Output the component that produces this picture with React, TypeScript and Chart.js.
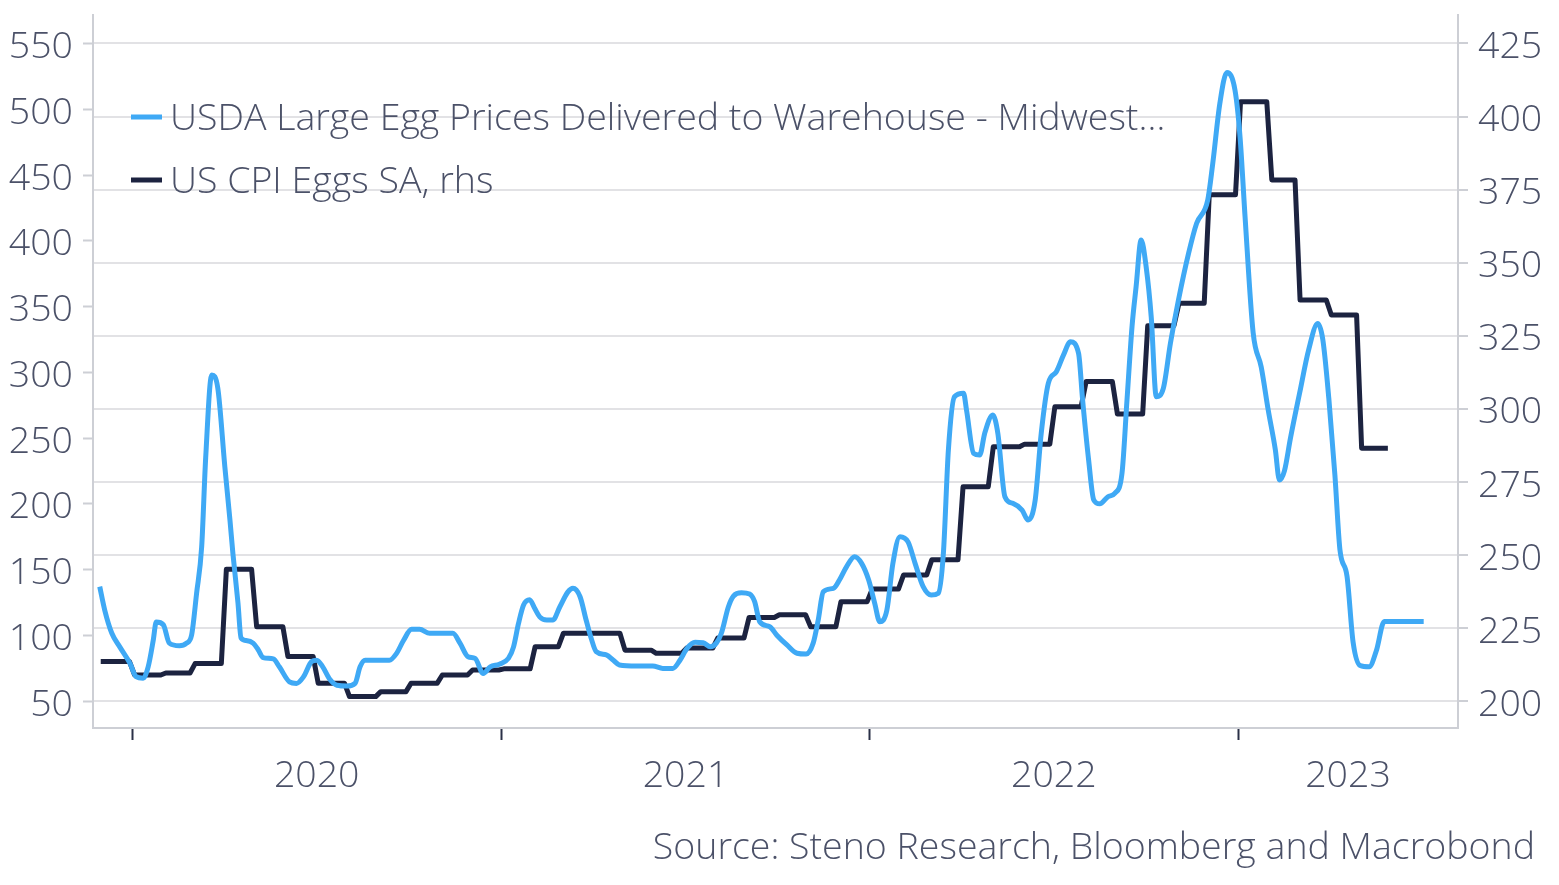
import { useEffect, useRef } from 'react';
import { Chart, registerables } from 'chart.js';

Chart.register(...registerables);

// ---- text ----
const usdaLabel = 'USDA Large Egg Prices Delivered to Warehouse - Midwest…';
const cpiLabel = 'US CPI Eggs SA, rhs';
const sourceNote = 'Source: Steno Research, Bloomberg and Macrobond';
const yearLabels = ['2020', '2021', '2022', '2023'];

// ---- axis ticks ----
const leftTicks = [50, 100, 150, 200, 250, 300, 350, 400, 450, 500, 550];
const rightTicks = [200, 225, 250, 275, 300, 325, 350, 375, 400, 425];

// ---- USDA large egg price, Midwest (lhs) ----
const usdaDates = [
  '2019-11-30', '2019-12-05', '2019-12-12', '2019-12-20', '2019-12-30',
  '2020-01-05', '2020-01-12', '2020-01-17', '2020-01-22', '2020-01-25',
  '2020-02-01', '2020-02-07', '2020-02-17', '2020-02-24', '2020-02-29',
  '2020-03-05', '2020-03-10', '2020-03-14', '2020-03-20', '2020-03-26',
  '2020-04-02', '2020-04-07', '2020-04-10', '2020-04-15', '2020-04-18',
  '2020-04-23', '2020-04-30', '2020-05-05', '2020-05-10', '2020-05-20',
  '2020-05-26', '2020-06-05', '2020-06-12', '2020-06-19', '2020-06-27',
  '2020-07-02', '2020-07-08', '2020-07-15', '2020-07-22', '2020-08-01',
  '2020-08-09', '2020-08-14', '2020-08-19', '2020-08-30', '2020-09-12',
  '2020-09-19', '2020-09-26', '2020-10-04', '2020-10-12', '2020-10-22',
  '2020-11-14', '2020-11-21', '2020-11-29', '2020-12-06', '2020-12-14',
  '2020-12-21', '2020-12-30',
  '2021-01-08', '2021-01-13', '2021-01-18', '2021-01-23', '2021-01-29',
  '2021-02-03', '2021-02-08', '2021-02-15', '2021-02-21', '2021-02-28',
  '2021-03-08', '2021-03-13', '2021-03-20', '2021-03-26', '2021-03-31',
  '2021-04-05', '2021-04-15', '2021-04-22', '2021-04-28', '2021-05-15',
  '2021-05-31', '2021-06-10', '2021-06-20', '2021-06-27', '2021-07-04',
  '2021-07-12', '2021-07-20', '2021-07-27', '2021-08-02', '2021-08-07',
  '2021-08-14', '2021-08-19', '2021-08-27', '2021-09-04', '2021-09-09',
  '2021-09-14', '2021-09-24', '2021-10-01', '2021-10-11', '2021-10-21',
  '2021-10-30', '2021-11-06', '2021-11-11', '2021-11-16', '2021-11-26',
  '2021-12-02', '2021-12-09', '2021-12-17', '2021-12-24', '2021-12-31',
  '2022-01-06', '2022-01-11', '2022-01-18', '2022-01-24', '2022-01-31',
  '2022-02-08', '2022-02-15', '2022-02-23', '2022-03-03', '2022-03-10',
  '2022-03-15', '2022-03-20', '2022-03-26', '2022-04-04', '2022-04-07',
  '2022-04-14', '2022-04-20', '2022-04-25', '2022-05-03', '2022-05-08',
  '2022-05-15', '2022-05-23', '2022-06-01', '2022-06-07', '2022-06-14',
  '2022-06-20', '2022-06-27', '2022-07-05', '2022-07-12', '2022-07-19',
  '2022-07-27', '2022-07-31', '2022-08-06', '2022-08-11', '2022-08-17',
  '2022-08-25', '2022-09-01', '2022-09-08', '2022-09-13', '2022-09-18',
  '2022-09-22', '2022-09-27', '2022-10-02', '2022-10-07', '2022-10-12',
  '2022-10-19', '2022-10-26', '2022-11-03', '2022-11-13', '2022-11-21',
  '2022-12-02', '2022-12-07', '2022-12-14', '2022-12-21', '2022-12-29',
  '2023-01-03', '2023-01-08', '2023-01-16', '2023-01-24', '2023-01-31',
  '2023-02-07', '2023-02-11', '2023-02-16', '2023-02-22', '2023-03-03',
  '2023-03-12', '2023-03-21', '2023-03-26', '2023-04-01', '2023-04-07',
  '2023-04-12', '2023-04-19', '2023-04-25', '2023-05-02', '2023-05-11',
  '2023-05-18', '2023-05-26', '2023-07-04',
];
const usdaValues = [
  137, 119, 101.5, 91, 78.6,
  68.5, 67.3, 76, 96, 110,
  108, 94, 92, 94, 100,
  132, 167, 235, 298, 288,
  228, 188, 162, 124.5, 98,
  96, 94, 89, 83, 82,
  76, 64.6, 63.4, 68.5, 80,
  81, 76, 66.5, 62, 61.4,
  63.4, 76, 81, 81, 81,
  86, 96, 104.5, 104.5, 101.5,
  101.5, 94, 83.7, 82.4, 71,
  76, 78,
  82.4, 91, 109, 123, 127,
  120.5, 114, 111.6, 111.6, 121.7,
  133, 135.7, 129.3, 111.6, 97.7,
  87.5, 85, 81, 77.4, 76.6,
  76.6, 74.8, 74.8, 81, 90,
  94.6, 94.3, 91.3, 94, 101.5,
  121.7, 129.8, 132.3, 131.3, 125.5,
  110.3, 106.5, 100, 92.6, 86.3,
  85.7, 94, 111.6, 133, 135.7,
  142, 152, 159.7, 154.7, 142,
  124.3, 110.3, 119, 154.7, 175,
  171, 154.7, 137, 130.6, 132,
  162, 241, 281.4, 284, 271,
  238.3, 237, 253.6, 267.5, 253.6,
  205.3, 200.3, 195.2, 187.6, 202.8,
  253.6, 291.6, 300.4, 313, 323.2,
  314.4, 279, 233, 203, 200,
  205.3, 208, 223, 279, 335,
  365, 400.6, 380, 342, 281.4,
  287.8, 322, 355, 390.4, 413.3,
  431, 459, 504.5, 528, 514.6,
  479, 418, 330, 304, 271,
  241, 218, 225, 250, 284,
  317, 337, 325, 280, 222,
  165, 145, 95, 77, 76,
  88, 110.5, 110.5,
];

// ---- US CPI eggs, seasonally adjusted, monthly (rhs) ----
const cpiMonths = [
  '2019-12',
  '2020-01', '2020-02', '2020-03', '2020-04', '2020-05', '2020-06',
  '2020-07', '2020-08', '2020-09', '2020-10', '2020-11', '2020-12',
  '2021-01', '2021-02', '2021-03', '2021-04', '2021-05', '2021-06',
  '2021-07', '2021-08', '2021-09', '2021-10', '2021-11', '2021-12',
  '2022-01', '2022-02', '2022-03', '2022-04', '2022-05', '2022-06',
  '2022-07', '2022-08', '2022-09', '2022-10', '2022-11', '2022-12',
  '2023-01', '2023-02', '2023-03', '2023-04', '2023-05',
];
const cpiValues = [
  213.5,
  208.9, 209.6, 212.8, 245.1, 225.4, 215.2,
  206.1, 201.5, 203.2, 206.1, 208.9, 210.6,
  211.0, 218.6, 223.2, 223.2, 217.4, 216.3,
  218.1, 221.6, 228.6, 229.5, 225.4, 234.0,
  238.3, 243.1, 248.3, 273.3, 287.0, 287.9,
  300.7, 309.3, 298.2, 328.4, 336.1, 373.2,
  405.1, 378.3, 337.2, 332.1, 286.5,
];

// ---- styling ----
const FONT = '"Open Sans", "Noto Sans", sans-serif';
const FONT_SIZE = 37.5;
const TEXT = '#4b5168';
const BLUE = '#3fa9f5';
const NAVY = '#1c2340';
const AXIS_LINE = '#cdcfd5';
const GRID = '#e2e2e5';

const DAY = 86400000;
const toMs = (iso: string) => Date.parse(iso + 'T00:00:00Z');

const X_MIN = Date.UTC(2019, 10, 23, 8);
const X_MAX = Date.UTC(2023, 7, 7);
const yearStarts = yearLabels.map((y) => Date.UTC(Number(y), 0, 1));
const yearMids = yearStarts.map((s, i) => {
  const end = i + 1 < yearStarts.length ? yearStarts[i + 1] : Date.UTC(Number(yearLabels[i]) + 1, 0, 1);
  return (s + Math.min(end, X_MAX)) / 2;
});
const yearStartSet = new Set(yearStarts);
const midLabel = new Map<number, string>(yearMids.map((m, i) => [m, yearLabels[i]]));

// monthly CPI held flat over each month with a short ramp between months
function cpiPoints() {
  const pts: { x: number; y: number }[] = [];
  cpiMonths.forEach((m, i) => {
    const [yy, mm] = m.split('-').map(Number);
    const start = Date.UTC(yy, mm - 1, 1);
    const end = Date.UTC(yy, mm, 1);
    pts.push({ x: i === 0 ? start : start + 2.5 * DAY, y: cpiValues[i] });
    pts.push({ x: end - 2.5 * DAY, y: cpiValues[i] });
  });
  return pts;
}

const insideLegend = {
  id: 'insideLegend',
  afterDraw(chart: any, _args: any, opts: any) {
    const { ctx } = chart;
    ctx.save();
    ctx.font = `${opts.weight} ${opts.size}px ${FONT}`;
    ctx.textBaseline = 'middle';
    ctx.textAlign = 'left';
    chart.data.datasets.forEach((ds: any, i: number) => {
      const y = opts.top + i * opts.rowGap;
      ctx.strokeStyle = ds.borderColor;
      ctx.lineWidth = 5;
      ctx.lineCap = 'butt';
      ctx.beginPath();
      ctx.moveTo(opts.left, y);
      ctx.lineTo(opts.left + opts.swatch, y);
      ctx.stroke();
      ctx.fillStyle = TEXT;
      ctx.fillText(ds.label, opts.left + opts.swatch + opts.gap, y + 2);
    });
    ctx.restore();
  },
};

const sourceLine = {
  id: 'sourceLine',
  afterDraw(chart: any, _args: any, opts: any) {
    const { ctx } = chart;
    ctx.save();
    ctx.font = `${opts.weight} ${opts.size}px ${FONT}`;
    ctx.fillStyle = TEXT;
    ctx.textAlign = 'right';
    ctx.textBaseline = 'middle';
    ctx.fillText(opts.text, opts.x, opts.y);
    ctx.restore();
  },
};

export default function App() {
  const canvasRef = useRef<HTMLCanvasElement | null>(null);

  useEffect(() => {
    document.body.style.margin = '0';
    document.documentElement.style.overflow = 'hidden';
    const canvas = canvasRef.current;
    if (!canvas) return;

    const tickFont = { family: FONT, size: FONT_SIZE, weight: 300 as any };

    const chart = new Chart(canvas, {
      type: 'line',
      data: {
        datasets: [
          {
            label: usdaLabel,
            data: usdaDates.map((d, i) => ({ x: toMs(d), y: usdaValues[i] })),
            yAxisID: 'y',
            borderColor: BLUE,
            borderWidth: 5,
            pointRadius: 0,
            cubicInterpolationMode: 'monotone',
            borderJoinStyle: 'round',
          },
          {
            label: cpiLabel,
            data: cpiPoints(),
            yAxisID: 'y2',
            borderColor: NAVY,
            borderWidth: 5,
            pointRadius: 0,
            tension: 0,
            borderJoinStyle: 'round',
          },
        ],
      },
      options: {
        responsive: false,
        animation: false,
        devicePixelRatio: 1,
        parsing: false,
        normalized: true,
        layout: { padding: { top: 15, left: 0, right: 0, bottom: 0 } },
        plugins: {
          legend: { display: false },
          tooltip: { enabled: false },
          insideLegend: { left: 131, top: 117, rowGap: 63, swatch: 31, gap: 8, size: FONT_SIZE, weight: 300 },
          sourceLine: { text: sourceNote, x: 1535, y: 848, size: FONT_SIZE, weight: 300 },
        } as any,
        scales: {
          x: {
            type: 'linear',
            min: X_MIN,
            max: X_MAX,
            afterBuildTicks: (s: any) => {
              s.ticks = [...yearStarts, ...yearMids].sort((a, b) => a - b).map((v) => ({ value: v }));
            },
            afterFit: (s: any) => {
              s.height = 157;
              s.paddingLeft = 0;
              s.paddingRight = 0;
            },
            grid: {
              drawOnChartArea: false,
              drawTicks: true,
              tickLength: 12,
              tickWidth: 2,
              tickColor: (c: any) => (c.tick && yearStartSet.has(c.tick.value) ? '#2a3047' : 'rgba(0,0,0,0)'),
            },
            border: { display: true, color: AXIS_LINE, width: 2 },
            ticks: {
              autoSkip: false,
              maxRotation: 0,
              padding: 14,
              color: TEXT,
              font: tickFont,
              callback: (v: any) => midLabel.get(Number(v)) ?? '',
            },
          },
          y: {
            type: 'linear',
            position: 'left',
            min: 29.47,
            max: 571.7,
            afterBuildTicks: (s: any) => {
              s.ticks = leftTicks.map((v) => ({ value: v }));
            },
            afterFit: (s: any) => {
              s.width = 93;
              s.paddingTop = 0;
              s.paddingBottom = 0;
            },
            grid: { drawOnChartArea: false, tickLength: 10, tickWidth: 2, tickColor: AXIS_LINE },
            border: { display: true, color: AXIS_LINE, width: 2 },
            ticks: { padding: 10, labelOffset: 4, color: TEXT, font: tickFont },
          },
          y2: {
            type: 'linear',
            position: 'right',
            min: 190.76,
            max: 434.75,
            afterBuildTicks: (s: any) => {
              s.ticks = rightTicks.map((v) => ({ value: v }));
            },
            afterFit: (s: any) => {
              s.width = 101;
              s.paddingTop = 0;
              s.paddingBottom = 0;
            },
            grid: { drawOnChartArea: true, color: GRID, lineWidth: 2, tickLength: 10, tickWidth: 2, tickColor: AXIS_LINE },
            border: { display: true, color: AXIS_LINE, width: 2 },
            ticks: { padding: 10, labelOffset: 4, color: TEXT, font: tickFont },
          },
        },
      },
      plugins: [insideLegend, sourceLine],
    } as any);

    return () => chart.destroy();
  }, []);

  return (
    <div style={{ width: 1559, height: 885, position: 'relative', background: '#ffffff' }}>
      <canvas ref={canvasRef} width={1559} height={885} />
    </div>
  );
}
